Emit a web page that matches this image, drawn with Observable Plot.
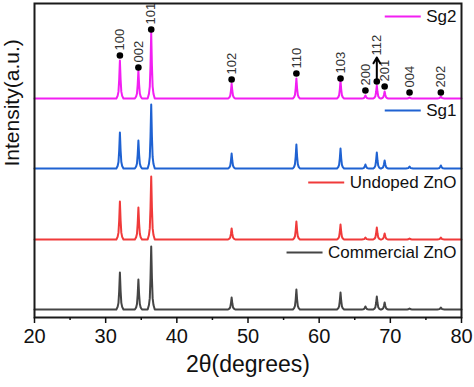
<!DOCTYPE html>
<html><head><meta charset="utf-8">
<script src="https://cdn.jsdelivr.net/npm/d3@7"></script>
<script src="https://cdn.jsdelivr.net/npm/@observablehq/plot@0.6"></script>
<style>body{margin:0;background:#fff} svg{display:block}</style>
</head><body><div id="chart"></div>
<script>
// ---- data ----
const hkl = ["100","002","101","102","110","103","200","112","201","004","202"];
const peakPos = [32.0, 34.6, 36.4, 47.7, 56.8, 63.0, 66.5, 68.1, 69.2, 72.7, 77.1];
const seriesNames = ["Sg2", "Sg1", "Undoped ZnO", "Commercial ZnO"];
const seriesColors = ["#f21ff2", "#1f62d2", "#f03a3a", "#454545"];
const baseOffset = [219, 149, 78, 8];           // vertical stacking offsets (a.u.)
const sg2Heights = [38, 28, 66, 15, 20, 18, 3, 13, 7, 1, 2];
const sg1Heights = [36, 28, 64, 15, 24, 20, 4, 16, 8, 2, 3];
const undopedHeights = [38, 32, 63, 11, 18, 15, 2, 12, 6, 1, 2];
const commercialHeights = [37, 30, 63, 12, 20, 17, 3, 13, 7, 1, 2];
const labelDot = [262, 250, 288, 238, 244, 239, 227, 236, 231, 225, 225]; // marker heights above Sg2
const legendY = [301, 207, 135, 65];
const xTicks = [20, 30, 40, 50, 60, 70, 80];
const xMinorTicks = [25, 35, 45, 55, 65, 75];

// peak outline template: [offset in degrees, fraction of peak height]
const peakShape = [[-0.5,0],[-0.32,0.07],[-0.2,0.18],[-0.1,0.5],[0,1],[0.1,0.5],[0.2,0.18],[0.32,0.07],[0.5,0]];

const allHeights = [sg2Heights, sg1Heights, undopedHeights, commercialHeights];
const rows = [];
seriesNames.forEach((name, s) => {
  const off = baseOffset[s];
  rows.push({series: name, x: 20, y: off});
  peakPos.forEach((p, i) => {
    peakShape.forEach(([dx, f]) => rows.push({series: name, x: p + dx, y: off + f * allHeights[s][i]}));
  });
  rows.push({series: name, x: 80, y: off});
});

// annotations
const ann = hkl.map((h, i) => ({h, x: peakPos[i], dot: labelDot[i], textY: h === "112" ? labelDot[i] + 26 : labelDot[i] + 5}));

// legend geometry
const W = 474, H = 387, mL = 34, mR = 13, mT = 3, mB = 70;
const pxPerDeg = (W - mL - mR) / 60;
const ctx = document.createElement("canvas").getContext("2d");
ctx.font = "17px 'Liberation Sans', Arial, sans-serif";
const legend = seriesNames.map((name, s) => {
  const w = ctx.measureText(name).width;
  const x2 = 80 - (5 + w + 5) / pxPerDeg;
  return {name, color: seriesColors[s], y: legendY[s], x2, x1: x2 - 36 / pxPerDeg};
});

const chart = Plot.plot({
  width: W, height: H,
  marginLeft: mL, marginRight: mR, marginTop: mT, marginBottom: mB,
  style: {fontFamily: "'Liberation Sans', Arial, sans-serif", background: "#fff", color: "#111"},
  x: {domain: [20, 80]},
  y: {domain: [0, 314], axis: null},
  color: {domain: seriesNames, range: seriesColors},
  marks: [
    Plot.line(rows, {x: "x", y: "y", z: "series", stroke: "series", strokeWidth: 2, strokeLinejoin: "round"}),
    Plot.dot(ann, {x: "x", y: "dot", r: 3.3, fill: "#000", stroke: null}),
    Plot.text(ann, {x: "x", y: "textY", text: "h", rotate: -90, textAnchor: "start", fontSize: 13, fill: "#333"}),
    Plot.arrow(ann.filter(d => d.h === "112"), {x1: "x", x2: "x", y1: d => d.dot + 3, y2: d => d.dot + 24, stroke: "#000", strokeWidth: 2, headLength: 5}),
    Plot.ruleY(legend, {x1: "x1", x2: "x2", y: "y", stroke: "color", strokeWidth: 2}),
    Plot.text(legend, {x: 80, y: "y", text: "name", textAnchor: "end", dx: -5, fontSize: 17, fill: "#111"}),
    Plot.frame({stroke: "#1a1a1a", strokeWidth: 2}),
    Plot.axisX(xTicks, {tickSize: 6, tickPadding: 5, fontSize: 20, label: null, strokeWidth: 1.5}),
    Plot.axisX(xMinorTicks, {tickSize: 3, tickFormat: () => "", label: null, strokeWidth: 1.5}),
    Plot.text(["Intensity(a.u.)"], {frameAnchor: "left", rotate: -90, dx: -22, dy: 6, fontSize: 21, fill: "#111"}),
    Plot.text(["2θ(degrees)"], {frameAnchor: "bottom", dy: 54, fontSize: 23, fill: "#111"})
  ]
});
document.getElementById("chart").append(chart);
</script>
</body></html>
